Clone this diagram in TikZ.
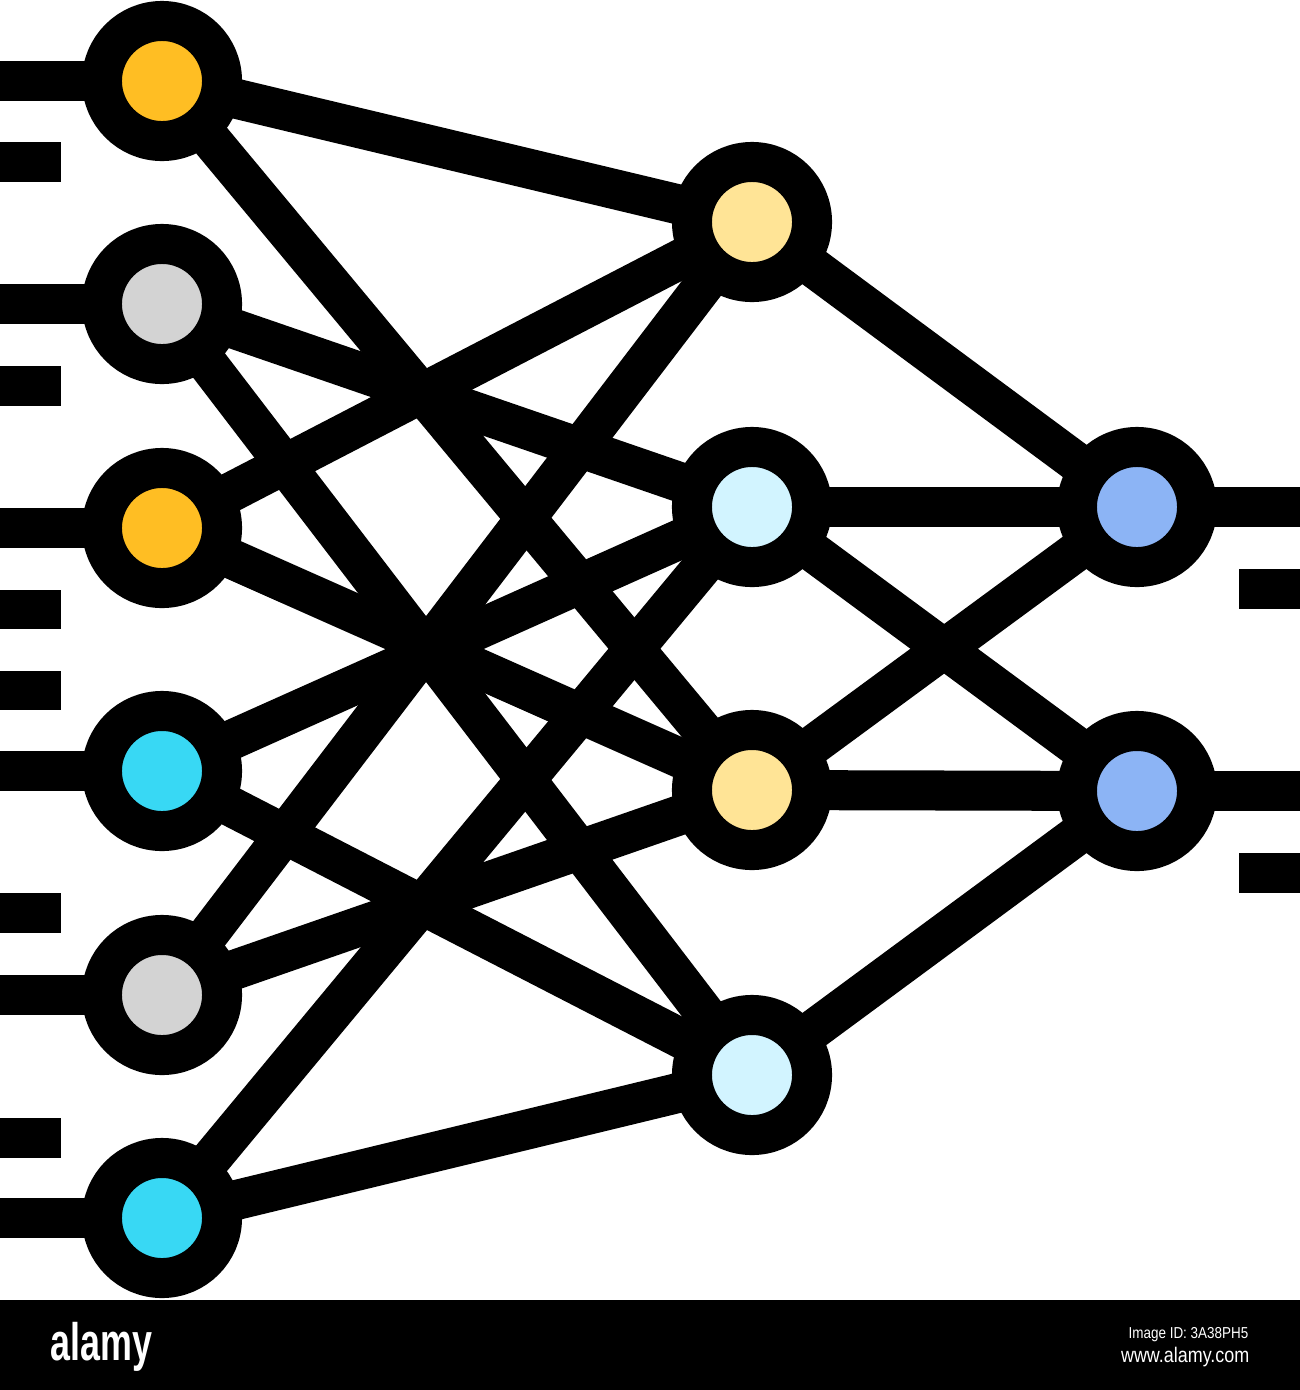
\documentclass[tikz,border=0pt]{standalone}
\usepackage{fontspec}
\setmainfont{Liberation Sans}
\newfontfamily\logofont[FakeStretch=0.68]{Liberation Sans}
\newfontfamily\idfont[FakeStretch=0.85]{Liberation Sans}
\definecolor{inamber}{RGB}{255, 190, 35}
\definecolor{ingrey}{RGB}{211, 211, 211}
\definecolor{incyan}{RGB}{56, 216, 244}
\definecolor{midcream}{RGB}{255, 228, 150}
\definecolor{midsky}{RGB}{210, 244, 255}
\definecolor{outblue}{RGB}{140, 180, 245}
\usetikzlibrary{positioning}

\begin{document}
\begin{tikzpicture}[x=0.01cm, y=-0.01cm]
                % Styles
                \tikzstyle{neuron}=[circle, draw=black, line width=0.4cm, minimum size=1.2cm, inner sep=0pt, outer sep=0pt]
                \tikzstyle{wire}=[draw=black, line width=0.4cm]
                \tikzstyle{stub}=[fill=black]
                \useasboundingbox (0,0) rectangle (1300,1390);

                % Input layer
                \node[neuron, fill=inamber] (i1) at (162,81) {};
                \node[neuron, fill=ingrey] (i2) at (162,304) {};
                \node[neuron, fill=inamber] (i3) at (162,528) {};
                \node[neuron, fill=incyan] (i4) at (162,771) {};
                \node[neuron, fill=ingrey] (i5) at (162,995) {};
                \node[neuron, fill=incyan] (i6) at (162,1218) {};

                % Hidden layer
                \node[neuron, fill=midcream] (m1) at (752,222) {};
                \node[neuron, fill=midsky] (m2) at (752,507) {};
                \node[neuron, fill=midcream] (m3) at (752,790) {};
                \node[neuron, fill=midsky] (m4) at (752,1075) {};

                % Output layer
                \node[neuron, fill=outblue] (o1) at (1137,507) {};
                \node[neuron, fill=outblue] (o2) at (1137,791) {};

                % Input wires
                \coordinate (in1) at (0,81);
                \coordinate (in2) at (0,304);
                \coordinate (in3) at (0,528);
                \coordinate (in4) at (0,771);
                \coordinate (in5) at (0,995);
                \coordinate (in6) at (0,1218);
                \draw[wire] (in1) -- (i1);
                \draw[wire] (in2) -- (i2);
                \draw[wire] (in3) -- (i3);
                \draw[wire] (in4) -- (i4);
                \draw[wire] (in5) -- (i5);
                \draw[wire] (in6) -- (i6);
                \fill[stub] (0,142) rectangle (61,182);
                \fill[stub] (0,366) rectangle (61,406);
                \fill[stub] (0,590) rectangle (61,629);
                \fill[stub] (0,671) rectangle (61,710);
                \fill[stub] (0,893) rectangle (61,933);
                \fill[stub] (0,1118) rectangle (61,1158);

                % Input to hidden
                \draw[wire] (i1) -- (m1);
                \draw[wire] (i1) -- (m3);
                \draw[wire] (i2) -- (m2);
                \draw[wire] (i2) -- (m4);
                \draw[wire] (i3) -- (m1);
                \draw[wire] (i3) -- (m3);
                \draw[wire] (i4) -- (m2);
                \draw[wire] (i4) -- (m4);
                \draw[wire] (i5) -- (m1);
                \draw[wire] (i5) -- (m3);
                \draw[wire] (i6) -- (m2);
                \draw[wire] (i6) -- (m4);

                % Hidden to output
                \draw[wire] (m1) -- (o1);
                \draw[wire] (m2) -- (o1);
                \draw[wire] (m2) -- (o2);
                \draw[wire] (m3) -- (o1);
                \draw[wire] (m3) -- (o2);
                \draw[wire] (m4) -- (o2);

                % Output wires
                \coordinate (out1) at (1300,507);
                \coordinate (out2) at (1300,791);
                \draw[wire] (o1) -- (out1);
                \draw[wire] (o2) -- (out2);
                \fill[stub] (1239,569) rectangle (1300,609);
                \fill[stub] (1239,853) rectangle (1300,893);

                % Footer
                \fill[black] (0,1300) rectangle (1300,1390);
                \node[anchor=base west, text=white, inner sep=0pt, font=\logofont\bfseries\fontsize{15pt}{15pt}\selectfont] (logo) at (50,1360) {alamy};
                \node[anchor=base east, text=white, inner sep=0pt, font=\idfont\fontsize{4.5pt}{5pt}\selectfont] (imgid) at (1249,1338) {Image ID: 3A38PH5};
                \node[anchor=base east, text=white, inner sep=0pt, font=\idfont\fontsize{6pt}{6pt}\selectfont] (site) at (1250,1362) {www.alamy.com};
            \end{tikzpicture}
\end{document}
